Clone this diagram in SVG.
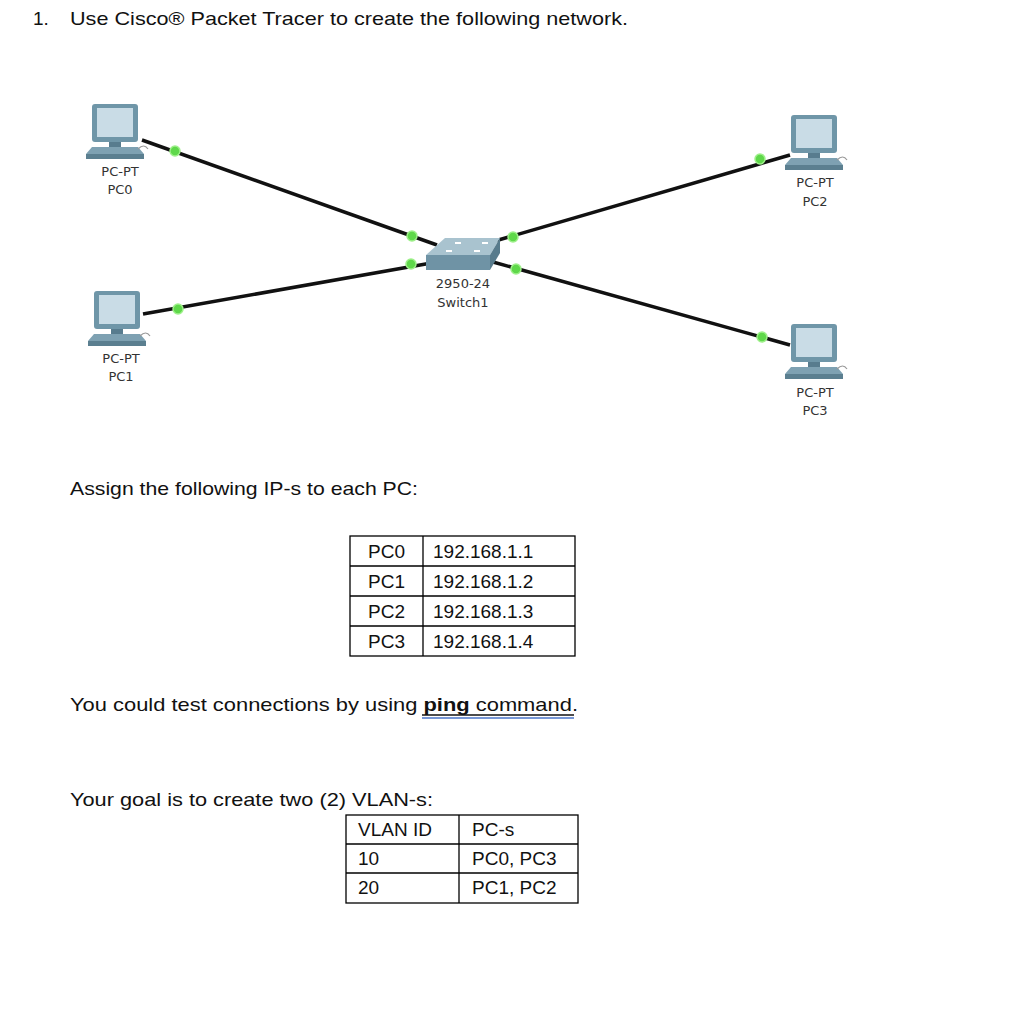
<svg xmlns="http://www.w3.org/2000/svg" width="1018" height="1024" viewBox="0 0 1018 1024">
<style>
.t{font-family:"Liberation Sans",Arial,sans-serif;font-size:19px;fill:#111}
.s{font-family:"DejaVu Sans",sans-serif;font-size:13px;fill:#333}
.dot{fill:#5fd84a;stroke:#9ef08a;stroke-width:1.5}
.ln{stroke:#111;stroke-width:3.5}
.cell{fill:none;stroke:#000;stroke-width:1.3}
</style>
<defs>
<g id="pc">
<rect x="8" y="0" width="46" height="38" rx="3" fill="#6f96a8"/>
<rect x="13" y="4" width="36" height="29" fill="#c9dce6"/>
<rect x="25" y="38" width="12" height="5" fill="#587c8e"/>
<path d="M8 43 H54 L60 50 H2 Z" fill="#7ea1b2"/>
<rect x="2" y="50" width="58" height="5" fill="#5b7f90"/>
<path d="M54 45 q6 -6 10 0" fill="none" stroke="#999" stroke-width="1.2"/>
</g>
</defs>
<rect width="1018" height="1024" fill="#fff"/>
<text class="t" x="33" y="25">1.</text>
<text class="t" x="70" y="25" textLength="558" lengthAdjust="spacingAndGlyphs">Use Cisco® Packet Tracer to create the following network.</text>
<g id="connectors">
<line class="ln" x1="142" y1="140" x2="437" y2="245"/>
<line class="ln" x1="143" y1="314" x2="437" y2="262"/>
<line class="ln" x1="495" y1="241" x2="790" y2="155"/>
<line class="ln" x1="493" y1="262" x2="790" y2="345"/>
<circle class="dot" cx="175" cy="151" r="5"/>
<circle class="dot" cx="412" cy="236" r="5"/>
<circle class="dot" cx="178" cy="309" r="5"/>
<circle class="dot" cx="411" cy="264" r="5"/>
<circle class="dot" cx="513" cy="237" r="5"/>
<circle class="dot" cx="760" cy="159" r="5"/>
<circle class="dot" cx="516" cy="269" r="5"/>
<circle class="dot" cx="762" cy="337" r="5"/>
</g>
<g id="PC0"><use href="#pc" x="84" y="104"/><text class="s" x="120" y="176" text-anchor="middle">PC-PT</text><text class="s" x="120" y="194" text-anchor="middle">PC0</text></g>
<g id="PC1"><use href="#pc" x="86" y="291"/><text class="s" x="121" y="363" text-anchor="middle">PC-PT</text><text class="s" x="121" y="381" text-anchor="middle">PC1</text></g>
<g id="PC2"><use href="#pc" x="783" y="115"/><text class="s" x="815" y="187" text-anchor="middle">PC-PT</text><text class="s" x="815" y="206" text-anchor="middle">PC2</text></g>
<g id="PC3"><use href="#pc" x="783" y="324"/><text class="s" x="815" y="397" text-anchor="middle">PC-PT</text><text class="s" x="815" y="415" text-anchor="middle">PC3</text></g>
<g id="Switch1">
<path d="M445 238 H500 L490 255 H426 Z" fill="#a9c3cf"/>
<path d="M426 255 H490 V270 H426 Z" fill="#6f93a5"/>
<path d="M490 255 L500 238 V253 L490 270 Z" fill="#587b8c"/>
<rect x="455" y="242" width="6" height="2" fill="#fff"/><rect x="482" y="242" width="6" height="2" fill="#fff"/>
<rect x="446" y="250" width="6" height="2" fill="#fff"/><rect x="474" y="250" width="6" height="2" fill="#fff"/>
<text class="s" x="463" y="288" text-anchor="middle">2950-24</text>
<text class="s" x="463" y="307" text-anchor="middle">Switch1</text>
</g>
<text class="t" x="70" y="495" textLength="348" lengthAdjust="spacingAndGlyphs">Assign the following IP-s to each PC:</text>
<g id="ip-table">
<rect class="cell" x="350" y="536" width="225" height="120"/>
<line class="cell" x1="350" y1="566" x2="575" y2="566"/>
<line class="cell" x1="350" y1="596" x2="575" y2="596"/>
<line class="cell" x1="350" y1="626" x2="575" y2="626"/>
<line class="cell" x1="423" y1="536" x2="423" y2="656"/>
<text class="t" x="368" y="558">PC0</text><text class="t" x="433" y="558">192.168.1.1</text>
<text class="t" x="368" y="588">PC1</text><text class="t" x="433" y="588">192.168.1.2</text>
<text class="t" x="368" y="618">PC2</text><text class="t" x="433" y="618">192.168.1.3</text>
<text class="t" x="368" y="648">PC3</text><text class="t" x="433" y="648">192.168.1.4</text>
</g>
<text class="t" x="70" y="711" textLength="508" lengthAdjust="spacingAndGlyphs">You could test connections by using <tspan font-weight="bold">ping</tspan>  command.</text>
<line x1="422" y1="715" x2="574" y2="715" stroke="#111" stroke-width="1.3"/>
<line x1="422" y1="718" x2="574" y2="718" stroke="#4a74c9" stroke-width="1.5"/>
<text class="t" x="70" y="806" textLength="363" lengthAdjust="spacingAndGlyphs">Your goal is to create two (2) VLAN-s:</text>
<g id="vlan-table">
<rect class="cell" x="346" y="815" width="232" height="88"/>
<line class="cell" x1="346" y1="844" x2="578" y2="844"/>
<line class="cell" x1="346" y1="873" x2="578" y2="873"/>
<line class="cell" x1="459" y1="815" x2="459" y2="903"/>
<text class="t" x="358" y="836">VLAN ID</text><text class="t" x="472" y="836">PC-s</text>
<text class="t" x="358" y="865">10</text><text class="t" x="472" y="865">PC0, PC3</text>
<text class="t" x="358" y="894">20</text><text class="t" x="472" y="894">PC1, PC2</text>
</g>
</svg>
